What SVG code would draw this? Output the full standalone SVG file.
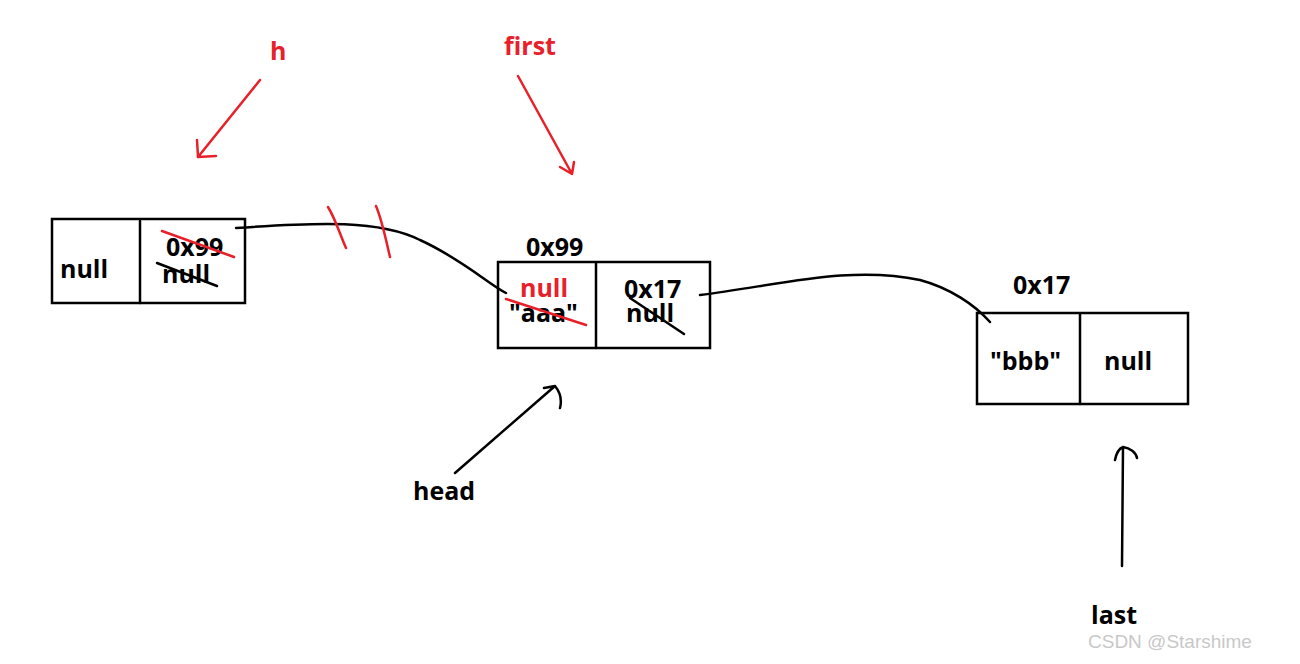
<svg xmlns="http://www.w3.org/2000/svg" width="1300" height="664" viewBox="0 0 1300 664">
<style>
.box{fill:none;stroke:#000;stroke-width:2.5}
.t{font-family:"Open Sans","Liberation Sans",sans-serif;font-weight:bold;font-size:25px;fill:#000}
.r{fill:#e8202a}
.ln{fill:none;stroke:#000;stroke-width:2.5;stroke-linecap:round}
.rl{fill:none;stroke:#e8202a;stroke-width:2.5;stroke-linecap:round}
</style>
<rect width="1300" height="664" fill="#fff"/>
<g id="node-h">
<rect class="box" x="52" y="219" width="193" height="84"/>
<line class="ln" x1="140" y1="221" x2="140" y2="303"/>
<text class="t" x="60" y="278">null</text>
<text class="t" x="166" y="256">0x99</text>
<text class="t" x="162" y="283">null</text>
<line class="rl" x1="162" y1="231" x2="234" y2="257"/>
<line class="ln" x1="157" y1="263" x2="217" y2="286"/>
</g>
<g id="node-first">
<rect class="box" x="498" y="262" width="212" height="86"/>
<line class="ln" x1="596" y1="263" x2="596" y2="348"/>
<text class="t" x="526" y="256">0x99</text>
<text class="t r" x="520" y="297">null</text>
<text class="t" x="509" y="322">"aaa"</text>
<line class="rl" x1="506" y1="299" x2="586" y2="325"/>
<text class="t" x="624" y="298">0x17</text>
<text class="t" x="626" y="322">null</text>
<line class="ln" x1="630" y1="298" x2="684" y2="334"/>
</g>
<g id="node-last">
<rect class="box" x="977" y="313" width="211" height="91"/>
<line class="ln" x1="1080" y1="314" x2="1080" y2="404"/>
<text class="t" x="1013" y="294">0x17</text>
<text class="t" x="990" y="370">"bbb"</text>
<text class="t" x="1104" y="370">null</text>
</g>
<g id="labels">
<text class="t r" x="270" y="60">h</text>
<text class="t r" x="504" y="55">first</text>
<text class="t" x="413" y="500">head</text>
<text class="t" x="1091" y="624">last</text>
<text x="1088" y="648" font-family="Liberation Sans,sans-serif" font-size="19" fill="#c8c8c8">CSDN @Starshime</text>
</g>
<g id="connectors">
<path class="ln" d="M236 228 C320 222 380 220 420 240 C460 258 490 285 506 293"/>
<path class="rl" d="M328 207 C336 220 340 235 346 248"/>
<path class="rl" d="M376 206 C382 220 386 240 390 257"/>
<path class="ln" d="M700 295 C780 285 850 265 920 280 C950 288 975 305 990 322"/>
<path class="rl" d="M260 80 L198 157 M198 157 L197 140 M198 157 L216 156"/>
<path class="rl" d="M518 76 L572 174 M572 174 L574 162 M572 174 L560 167"/>
<path class="ln" d="M455 473 L555 386 M555 386 C560 392 562 400 560 408 M555 386 L544 388"/>
<path class="ln" d="M1122 566 L1123 447 M1123 447 C1118 449 1116 455 1115 460 M1123 447 C1130 448 1136 452 1137 458"/>
</g>
</svg>
